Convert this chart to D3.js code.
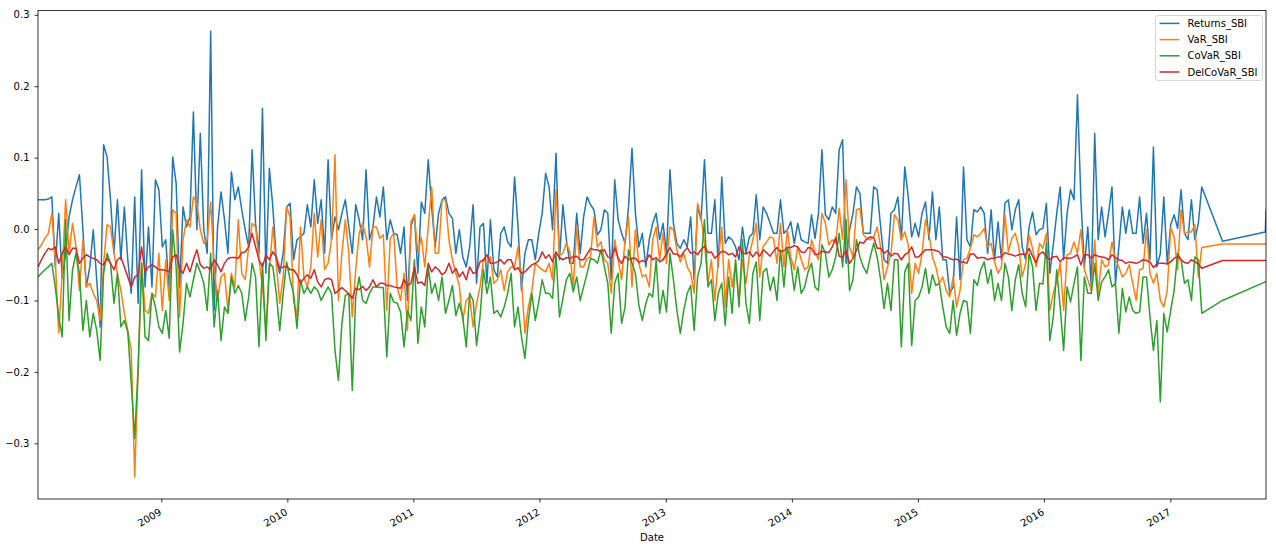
<!DOCTYPE html>
<html>
<head>
<meta charset="utf-8">
<script src="https://cdn.jsdelivr.net/npm/d3@7"></script>
<style>
  html, body { margin: 0; padding: 0; background: #ffffff; }
  svg { display: block; }
  text { font-family: "DejaVu Sans", sans-serif; }
</style>
</head>
<body>
<svg id="chart" width="1276" height="549"></svg>
<script>
// ---------------- data ----------------
const seriesNames = ["Returns_SBI", "VaR_SBI", "CoVaR_SBI", "DelCoVaR_SBI"];
const seriesColors = ["#1f77b4", "#ff7f0e", "#2ca02c", "#d62728"];

// regular observations start here, one every stepDays; then a few sparse trailing dates
const startDate = "2008-01-10";
const stepDays = 10;
const tailDates = ["2017-06-01", "2017-10-03", "2017-10-05"];

const returnsSBI = [
  0.041, 0.041, 0.041, 0.042, 0.045, -0.053, 0.022, -0.069, -0.034, 0.017,
  0.041, 0.059, 0.076, -0.001, -0.081, -0.053, -0.001, -0.071, -0.137, 0.118,
  0.101, 0.041, -0.034, 0.041, -0.043, 0.031, -0.043, -0.090, 0.045, -0.104,
  0.083, -0.081, 0.003, -0.081, 0.069, 0.055, -0.025, -0.015, -0.090, 0.101,
  0.064, -0.081, 0.031, 0.003, 0.017, 0.164, -0.001, 0.134, -0.001, -0.034,
  0.277, -0.114, 0.003, 0.052, 0.013, -0.034, 0.080, 0.041, 0.059, 0.027,
  -0.001, -0.025, 0.111, 0.008, -0.034, 0.169, -0.062, 0.085, 0.031, -0.043,
  -0.062, -0.034, 0.031, 0.036, -0.043, -0.015, -0.011, -0.006, 0.034, 0.003,
  0.069, 0.008, 0.041, -0.034, 0.097, -0.015, 0.017, -0.001, 0.022, 0.041,
  0.003, -0.034, 0.034, 0.013, -0.015, 0.083, -0.015, 0.003, 0.045, 0.017,
  0.059, -0.015, 0.013, -0.006, -0.008, -0.034, 0.003, -0.100, 0.003, 0.020,
  -0.062, 0.038, 0.022, 0.097, 0.031, -0.025, 0.022, 0.041, 0.045, 0.022,
  0.015, -0.034, -0.001, -0.039, -0.053, -0.025, 0.034, -0.076, 0.003, 0.008,
  -0.076, 0.013, -0.057, -0.067, -0.006, 0.003, -0.018, -0.025, 0.073, 0.003,
  -0.086, -0.034, -0.015, -0.015, -0.043, -0.006, 0.022, 0.078, 0.059, -0.001,
  0.106, -0.043, 0.034, -0.015, -0.048, -0.048, 0.022, -0.034, 0.017, 0.045,
  0.034, 0.027, -0.008, -0.001, 0.027, 0.022, -0.071, 0.069, 0.013, -0.006,
  -0.020, 0.031, 0.113, 0.022, -0.025, -0.006, -0.053, -0.015, 0.008, 0.022,
  -0.015, 0.008, -0.034, 0.083, 0.008, -0.020, -0.027, -0.015, -0.025, 0.017,
  -0.071, 0.031, 0.013, 0.097, -0.006, -0.006, 0.041, -0.053, 0.073, -0.020,
  -0.011, -0.015, -0.025, -0.043, 0.003, -0.034, -0.011, -0.006, 0.048, -0.015,
  0.031, 0.022, 0.008, -0.006, -0.006, 0.041, -0.006, -0.001, 0.010, -0.020,
  0.008, -0.015, -0.018, -0.020, 0.020, -0.013, 0.022, 0.111, 0.020, 0.013,
  0.031, 0.022, 0.111, 0.125, -0.048, -0.001, 0.022, 0.059, 0.050, -0.006,
  -0.006, -0.006, 0.059, 0.055, 0.003, -0.043, -0.048, 0.022, 0.027, 0.045,
  -0.015, 0.087, 0.045, -0.011, 0.008, -0.011, 0.022, 0.038, -0.015, 0.052,
  -0.015, 0.031, -0.043, -0.043, -0.090, -0.081, 0.017, -0.071, 0.087, -0.015,
  -0.025, 0.027, 0.024, 0.031, 0.022, -0.034, 0.027, -0.043, 0.010, -0.043,
  0.036, 0.041, -0.001, 0.027, 0.041, -0.025, -0.043, 0.003, 0.024, -0.008,
  -0.001, 0.001, 0.036, -0.062, -0.022, 0.022, 0.059, -0.043, 0.022, 0.055,
  0.041, 0.188, 0.041, -0.053, 0.003, -0.081, 0.134, -0.015, 0.031, -0.011,
  0.022, 0.059, -0.076, -0.025, 0.031, -0.006, 0.027, -0.006, -0.006, 0.045,
  -0.020, 0.022, -0.043, 0.115, -0.053, -0.034, 0.045, -0.048, 0.006, 0.020,
  0.001, 0.055, -0.006, -0.015, 0.041, -0.015, 0.008, 0.059,
  -0.017, -0.004, 0.027
];

const varSBI = [
  -0.029, -0.022, -0.013, -0.006, 0.022, -0.043, -0.146, -0.062, 0.041, -0.034,
  0.008, -0.025, -0.086, -0.015, -0.081, -0.076, -0.090, -0.100, -0.128, -0.048,
  0.006, 0.003, -0.034, -0.062, -0.086, -0.118, -0.142, -0.170, -0.347, -0.198,
  -0.048, -0.114, -0.118, -0.090, -0.095, -0.034, -0.114, -0.043, -0.100, 0.027,
  0.022, -0.123, -0.015, 0.013, 0.003, 0.045, 0.036, -0.001, -0.020, -0.015,
  0.038, -0.053, -0.100, -0.067, -0.062, -0.114, -0.062, -0.081, 0.013, -0.062,
  -0.071, -0.025, 0.008, 0.003, -0.043, -0.081, -0.142, -0.057, 0.003, -0.048,
  -0.104, -0.067, 0.031, 0.017, -0.100, -0.123, 0.003, -0.067, -0.081, -0.053,
  0.022, -0.039, 0.013, -0.057, -0.048, -0.015, 0.104, -0.100, -0.034, 0.013,
  -0.034, -0.123, -0.057, -0.006, 0.008, -0.011, -0.053, 0.003, 0.003, -0.013,
  -0.008, -0.114, -0.013, -0.006, -0.081, -0.100, -0.062, -0.142, 0.010, 0.020,
  -0.034, -0.011, -0.053, 0.003, 0.059, -0.034, -0.034, 0.041, 0.041, -0.015,
  -0.043, -0.062, -0.079, -0.128, -0.100, -0.095, -0.137, -0.104, -0.081, -0.043,
  -0.048, -0.039, -0.076, -0.071, -0.057, -0.086, -0.060, -0.053, -0.053, -0.025,
  -0.071, -0.146, -0.109, -0.086, -0.048, -0.053, -0.057, -0.060, -0.048, -0.071,
  0.055, -0.036, -0.034, -0.020, -0.032, -0.081, 0.003, -0.053, -0.053, -0.041,
  -0.039, 0.017, -0.025, -0.018, -0.043, -0.048, -0.090, -0.015, -0.043, -0.071,
  -0.015, 0.017, -0.081, -0.001, -0.048, -0.067, -0.064, -0.081, -0.015, 0.003,
  -0.043, -0.006, -0.048, 0.003, -0.001, -0.029, -0.046, -0.034, -0.053, -0.062,
  -0.090, 0.036, 0.017, -0.020, -0.076, -0.043, -0.100, -0.043, 0.003, -0.109,
  -0.043, -0.081, -0.048, -0.100, -0.043, -0.076, -0.036, -0.015, 0.008, -0.067,
  -0.024, -0.018, -0.011, -0.013, -0.048, 0.008, -0.053, -0.001, -0.039, -0.057,
  -0.025, -0.043, -0.057, -0.053, -0.015, -0.032, -0.043, 0.022, 0.008, -0.022,
  -0.015, -0.020, 0.029, -0.015, 0.069, -0.025, -0.039, 0.027, 0.029, -0.008,
  -0.013, -0.015, -0.011, 0.003, -0.025, -0.071, -0.053, -0.034, 0.020, 0.013,
  -0.015, -0.004, -0.022, -0.090, -0.048, -0.062, -0.034, 0.013, -0.006, -0.039,
  -0.053, -0.076, -0.067, -0.086, -0.095, -0.067, -0.109, -0.086, -0.043, -0.041,
  -0.027, -0.008, -0.011, -0.006, 0.001, -0.025, -0.020, -0.046, -0.062, -0.053,
  0.020, -0.032, -0.013, -0.006, -0.025, -0.067, -0.048, -0.008, -0.027, -0.053,
  -0.020, -0.027, -0.006, -0.114, -0.090, -0.074, -0.048, -0.114, -0.036, -0.034,
  -0.018, -0.034, -0.001, -0.057, -0.071, -0.086, -0.015, -0.090, -0.043, -0.053,
  -0.050, -0.018, -0.043, -0.053, -0.067, -0.062, -0.050, -0.076, -0.100, -0.057,
  -0.055, -0.001, -0.062, -0.076, -0.062, -0.100, -0.109, -0.086, 0.002, -0.011,
  -0.057, 0.027, -0.006, -0.004, -0.004, 0.006, -0.067, -0.026,
  -0.021, -0.021, -0.021
];

const covarSBI = [
  -0.067, -0.062, -0.057, -0.053, -0.048, -0.081, -0.123, -0.151, 0.013, -0.128,
  -0.057, -0.034, -0.062, -0.142, -0.100, -0.151, -0.118, -0.142, -0.184, -0.062,
  -0.034, -0.048, -0.104, -0.062, -0.137, -0.128, -0.144, -0.216, -0.293, -0.193,
  -0.048, -0.151, -0.156, -0.090, -0.109, -0.137, -0.146, -0.114, -0.153, -0.001,
  -0.053, -0.172, -0.132, -0.076, -0.095, -0.071, -0.048, -0.060, -0.076, -0.114,
  -0.034, -0.137, -0.086, -0.156, -0.109, -0.118, -0.067, -0.090, -0.079, -0.090,
  -0.128, -0.095, -0.048, -0.067, -0.165, -0.048, -0.156, -0.048, -0.053, -0.090,
  -0.142, -0.090, -0.046, -0.071, -0.090, -0.139, -0.071, -0.090, -0.081, -0.090,
  -0.081, -0.086, -0.100, -0.090, -0.081, -0.090, -0.170, -0.212, -0.132, -0.093,
  -0.090, -0.226, -0.095, -0.067, -0.100, -0.104, -0.090, -0.081, -0.081, -0.082,
  -0.082, -0.179, -0.090, -0.102, -0.104, -0.116, -0.165, -0.114, -0.128, -0.043,
  -0.160, -0.109, -0.137, -0.053, -0.090, -0.076, -0.100, -0.067, -0.118, -0.100,
  -0.079, -0.121, -0.104, -0.123, -0.165, -0.090, -0.100, -0.163, -0.123, -0.057,
  -0.090, -0.067, -0.118, -0.114, -0.123, -0.109, -0.090, -0.062, -0.137, -0.109,
  -0.151, -0.181, -0.128, -0.090, -0.128, -0.102, -0.071, -0.090, -0.090, -0.097,
  -0.034, -0.123, -0.097, -0.071, -0.062, -0.088, -0.067, -0.100, -0.081, -0.062,
  -0.041, -0.043, -0.048, -0.029, -0.053, -0.076, -0.146, -0.076, -0.062, -0.132,
  -0.109, -0.029, -0.048, -0.062, -0.107, -0.128, -0.104, -0.090, -0.095, -0.043,
  -0.118, -0.086, -0.116, -0.034, -0.071, -0.114, -0.146, -0.114, -0.090, -0.079,
  -0.142, -0.067, -0.048, 0.013, -0.081, -0.071, -0.128, -0.090, -0.076, -0.135,
  -0.067, -0.118, -0.043, -0.109, -0.015, -0.104, -0.132, -0.062, -0.046, -0.128,
  -0.060, -0.055, -0.086, -0.067, -0.100, -0.029, -0.081, -0.025, -0.048, -0.086,
  -0.053, -0.090, -0.081, -0.060, -0.048, -0.081, -0.086, -0.022, -0.034, -0.067,
  -0.057, -0.039, -0.006, -0.053, 0.013, -0.086, -0.071, -0.015, -0.039, -0.053,
  -0.062, -0.039, -0.020, -0.039, -0.071, -0.111, -0.076, -0.114, -0.043, -0.043,
  -0.165, -0.060, -0.048, -0.163, -0.100, -0.095, -0.081, -0.055, -0.090, -0.064,
  -0.079, -0.076, -0.109, -0.137, -0.146, -0.100, -0.149, -0.118, -0.100, -0.102,
  -0.146, -0.071, -0.079, -0.057, -0.046, -0.076, -0.057, -0.100, -0.076, -0.100,
  -0.048, -0.067, -0.114, -0.071, -0.050, -0.090, -0.109, -0.034, -0.053, -0.114,
  -0.076, -0.077, -0.020, -0.156, -0.123, -0.057, -0.109, -0.170, -0.081, -0.102,
  -0.076, -0.053, -0.184, -0.067, -0.090, -0.090, -0.048, -0.100, -0.074, -0.067,
  -0.057, -0.081, -0.076, -0.146, -0.083, -0.116, -0.095, -0.114, -0.118, -0.116,
  -0.067, -0.067, -0.123, -0.170, -0.128, -0.242, -0.118, -0.144, -0.114, -0.086,
  -0.034, -0.043, -0.076, -0.071, -0.100, -0.039, -0.043, -0.118,
  -0.100, -0.074, -0.074
];

const delcovarSBI = [
  -0.053, -0.043, -0.034, -0.027, -0.029, -0.025, -0.048, -0.034, -0.025, -0.036,
  -0.027, -0.027, -0.048, -0.041, -0.036, -0.039, -0.041, -0.043, -0.048, -0.050,
  -0.041, -0.048, -0.057, -0.043, -0.039, -0.053, -0.067, -0.081, -0.067, -0.064,
  -0.025, -0.060, -0.053, -0.050, -0.053, -0.057, -0.057, -0.058, -0.060, -0.039,
  -0.036, -0.055, -0.062, -0.048, -0.060, -0.043, -0.029, -0.050, -0.055, -0.053,
  -0.057, -0.043, -0.050, -0.060, -0.048, -0.041, -0.040, -0.040, -0.041, -0.033,
  -0.032, -0.025, -0.006, -0.025, -0.043, -0.053, -0.036, -0.043, -0.032, -0.039,
  -0.055, -0.053, -0.052, -0.057, -0.057, -0.064, -0.076, -0.069, -0.064, -0.069,
  -0.057, -0.074, -0.081, -0.071, -0.069, -0.071, -0.090, -0.086, -0.082, -0.086,
  -0.091, -0.097, -0.083, -0.085, -0.080, -0.086, -0.081, -0.071, -0.081, -0.076,
  -0.076, -0.079, -0.079, -0.081, -0.082, -0.083, -0.071, -0.079, -0.076, -0.053,
  -0.076, -0.074, -0.079, -0.048, -0.060, -0.053, -0.057, -0.064, -0.060, -0.048,
  -0.062, -0.055, -0.067, -0.060, -0.071, -0.053, -0.062, -0.060, -0.046, -0.043,
  -0.036, -0.048, -0.048, -0.046, -0.043, -0.049, -0.043, -0.043, -0.057, -0.054,
  -0.062, -0.060, -0.055, -0.050, -0.048, -0.044, -0.032, -0.041, -0.036, -0.046,
  -0.032, -0.040, -0.043, -0.040, -0.041, -0.039, -0.038, -0.043, -0.043, -0.035,
  -0.027, -0.029, -0.029, -0.032, -0.029, -0.039, -0.041, -0.026, -0.041, -0.048,
  -0.038, -0.043, -0.041, -0.041, -0.047, -0.044, -0.046, -0.036, -0.043, -0.040,
  -0.046, -0.043, -0.035, -0.026, -0.035, -0.035, -0.039, -0.032, -0.026, -0.034,
  -0.032, -0.036, -0.029, -0.024, -0.033, -0.032, -0.041, -0.036, -0.031, -0.032,
  -0.036, -0.034, -0.039, -0.025, -0.033, -0.035, -0.032, -0.039, -0.032, -0.038,
  -0.029, -0.033, -0.038, -0.031, -0.026, -0.032, -0.030, -0.026, -0.026, -0.023,
  -0.025, -0.032, -0.033, -0.026, -0.027, -0.036, -0.035, -0.031, -0.032, -0.033,
  -0.025, -0.012, -0.038, -0.039, -0.030, -0.048, -0.041, -0.030, -0.018, -0.020,
  -0.014, -0.011, -0.012, -0.027, -0.027, -0.034, -0.030, -0.038, -0.034, -0.035,
  -0.043, -0.036, -0.033, -0.025, -0.039, -0.039, -0.034, -0.029, -0.029, -0.029,
  -0.030, -0.032, -0.039, -0.039, -0.041, -0.043, -0.042, -0.046, -0.046, -0.048,
  -0.035, -0.035, -0.041, -0.040, -0.040, -0.043, -0.041, -0.041, -0.039, -0.039,
  -0.033, -0.035, -0.036, -0.038, -0.036, -0.035, -0.036, -0.027, -0.038, -0.047,
  -0.035, -0.032, -0.039, -0.043, -0.039, -0.038, -0.046, -0.040, -0.041, -0.041,
  -0.039, -0.036, -0.050, -0.036, -0.036, -0.041, -0.036, -0.038, -0.039, -0.040,
  -0.043, -0.036, -0.040, -0.043, -0.044, -0.048, -0.046, -0.047, -0.048, -0.046,
  -0.043, -0.044, -0.046, -0.054, -0.049, -0.048, -0.048, -0.049, -0.046, -0.041,
  -0.038, -0.043, -0.047, -0.048, -0.043, -0.046, -0.049, -0.055,
  -0.044, -0.044, -0.044
];

const yTickValues = [-0.3, -0.2, -0.1, 0.0, 0.1, 0.2, 0.3];
const xTickYears = [2009, 2010, 2011, 2012, 2013, 2014, 2015, 2016, 2017];
const xAxisTitle = "Date";

// ---------------- drawing ----------------
const W = 1276, H = 549;
const plot = { left: 38, right: 1266, top: 10.5, bottom: 499 };

const parse = d3.utcParse("%Y-%m-%d");
const allSeries = [returnsSBI, varSBI, covarSBI, delcovarSBI];
const nTotal = d3.min(allSeries, s => s.length);
const nRegular = nTotal - tailDates.length;
const t0 = parse(startDate);
const dates = d3.range(nRegular).map(i => d3.utcDay.offset(t0, i * stepDays))
  .concat(tailDates.map(parse));

const x = d3.scaleUtc()
  .domain([dates[0], dates[dates.length - 1]])
  .range([plot.left, plot.right]);
const y = d3.scaleLinear()
  .domain([-0.378, 0.306])
  .range([plot.bottom, plot.top]);

const svg = d3.select("#chart");
svg.append("rect").attr("width", W).attr("height", H).attr("fill", "#ffffff");

svg.append("defs").append("clipPath").attr("id", "clip")
  .append("rect")
  .attr("x", plot.left).attr("y", plot.top)
  .attr("width", plot.right - plot.left).attr("height", plot.bottom - plot.top);

const line = d3.line()
  .x((d, i) => x(dates[i]))
  .y(d => y(d));

const gLines = svg.append("g").attr("clip-path", "url(#clip)");
allSeries.forEach((s, k) => {
  gLines.append("path")
    .datum(s.slice(0, nTotal))
    .attr("fill", "none")
    .attr("stroke", seriesColors[k])
    .attr("stroke-width", 1.5)
    .attr("stroke-linejoin", "round")
    .attr("stroke-linecap", "butt")
    .attr("d", line);
});

// y axis
const minus = s => s.replace("-", "\u2212");
const yAxis = d3.axisLeft(y)
  .tickValues(yTickValues)
  .tickSize(3.5)
  .tickPadding(5)
  .tickFormat(d => minus(d3.format(".1f")(d)));
const gy = svg.append("g")
  .attr("transform", `translate(${plot.left},0)`)
  .call(yAxis);
gy.select(".domain").remove();
gy.selectAll(".tick line").attr("stroke", "#000").attr("stroke-width", 0.8);
gy.selectAll(".tick text")
  .attr("fill", "#000")
  .style("font-family", "DejaVu Sans")
  .style("font-size", "10px");

// x axis
const xTickDates = xTickYears.map(yr => new Date(Date.UTC(yr, 0, 1)));
const xAxis = d3.axisBottom(x)
  .tickValues(xTickDates)
  .tickSize(3.5)
  .tickFormat(d3.utcFormat("%Y"));
const gx = svg.append("g")
  .attr("transform", `translate(0,${plot.bottom})`)
  .call(xAxis);
gx.select(".domain").remove();
gx.selectAll(".tick line").attr("stroke", "#000").attr("stroke-width", 0.8);
gx.selectAll(".tick text")
  .attr("fill", "#000")
  .attr("x", 0).attr("y", 0).attr("dy", "0.71em")
  .attr("text-anchor", "end")
  .attr("transform", "translate(-3,9) rotate(-30)")
  .style("font-family", "DejaVu Sans")
  .style("font-size", "10px");

svg.append("text")
  .attr("x", (plot.left + plot.right) / 2)
  .attr("y", 541)
  .attr("text-anchor", "middle")
  .attr("fill", "#000")
  .style("font-size", "10px")
  .text(xAxisTitle);

// frame
svg.append("rect")
  .attr("x", plot.left).attr("y", plot.top)
  .attr("width", plot.right - plot.left).attr("height", plot.bottom - plot.top)
  .attr("fill", "none").attr("stroke", "#000").attr("stroke-width", 0.8);

// legend
const leg = { x: 1155.5, y: 15.5, w: 107, h: 65, rowH: 16.2, firstRow: 23.4 };
const gLeg = svg.append("g");
gLeg.append("rect")
  .attr("x", leg.x).attr("y", leg.y).attr("width", leg.w).attr("height", leg.h)
  .attr("rx", 2.5)
  .attr("fill", "#ffffff").attr("fill-opacity", 0.8)
  .attr("stroke", "#cccccc").attr("stroke-width", 0.8);
seriesNames.forEach((name, k) => {
  const cy = leg.firstRow + k * leg.rowH;
  gLeg.append("line")
    .attr("x1", leg.x + 4).attr("x2", leg.x + 24)
    .attr("y1", cy).attr("y2", cy)
    .attr("stroke", seriesColors[k]).attr("stroke-width", 1.5);
  gLeg.append("text")
    .attr("x", leg.x + 32).attr("y", cy)
    .attr("dy", "0.36em")
    .attr("fill", "#000")
    .style("font-size", "10px")
    .text(name);
});
</script>
</body>
</html>
